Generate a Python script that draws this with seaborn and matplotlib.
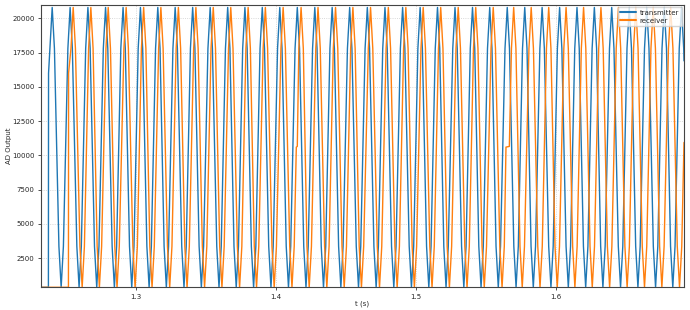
import numpy as np
import pandas as pd
import matplotlib
matplotlib.use("Agg")
import matplotlib.pyplot as plt
import seaborn as sns

# ---- data ----
trough_level = 360
peak_level = 20800
# the crests/troughs are rounded: at these levels the curve is still close to
# the extreme, about 0.0016 s either side of it
shoulder_lo = 3350
shoulder_hi = 17800
shoulder_halfwidth = 0.0016

# transmitter: flat start, jump, then turning points
tx_start_t = [1.2321, 1.2374, 1.2375]
tx_start_v = [360, 360, 16000]
tx_peaks = [1.2401, 1.2529, 1.2656, 1.2782, 1.2907, 1.3031, 1.3155, 1.3279, 1.3404,
            1.3529, 1.3654, 1.3777, 1.3901, 1.4026, 1.4151, 1.4276, 1.4400, 1.4525,
            1.4651, 1.4777, 1.4903, 1.5028, 1.5152, 1.5277, 1.5402, 1.5525, 1.5650,
            1.5775, 1.5899, 1.6024, 1.6148, 1.6272, 1.6396, 1.6521, 1.6646, 1.6771,
            1.6894]
tx_troughs = [1.2465, 1.2593, 1.2719, 1.2845, 1.2969, 1.3093, 1.3216, 1.3342, 1.3466,
              1.3592, 1.3715, 1.3839, 1.3963, 1.4088, 1.4213, 1.4338, 1.4462, 1.4588,
              1.4714, 1.4840, 1.4966, 1.5090, 1.5213, 1.5340, 1.5463, 1.5586, 1.5713,
              1.5836, 1.5962, 1.6086, 1.6210, 1.6333, 1.6459, 1.6583, 1.6709, 1.6832]
tx_end_t = [1.6912]
tx_end_v = [16900]

# receiver: flat start, jump, turning points, two short holds at mid level
rx_start_t = [1.2321, 1.2517, 1.2518]
rx_start_v = [360, 360, 16000]
rx_peaks = [1.2551, 1.2677, 1.2801, 1.2929, 1.3054, 1.3177, 1.3302, 1.3427, 1.3551,
            1.3676, 1.3800, 1.3923, 1.4050, 1.4178, 1.4299, 1.4424, 1.4548, 1.4674,
            1.4801, 1.4926, 1.5050, 1.5175, 1.5300, 1.5425, 1.5550, 1.5696, 1.5821,
            1.5946, 1.6070, 1.6195, 1.6319, 1.6444, 1.6568, 1.6692, 1.6817]
rx_troughs = [1.2615, 1.2738, 1.2864, 1.2993, 1.3114, 1.3240, 1.3364, 1.3489, 1.3613,
              1.3739, 1.3860, 1.3986, 1.4113, 1.4236, 1.4362, 1.4486, 1.4609, 1.4738,
              1.4864, 1.4987, 1.5113, 1.5237, 1.5363, 1.5486, 1.5613, 1.5757, 1.5884,
              1.6007, 1.6133, 1.6257, 1.6381, 1.6506, 1.6630, 1.6754, 1.6880]
rx_hold_t = [1.4144, 1.4151, 1.5641, 1.5665]
rx_hold_v = [10600, 10650, 10600, 10650]
rx_end_t = [1.6912]
rx_end_v = [10940]

series_names = ["transmitter", "receiver"]
x_range = (1.2321, 1.6912)


def build(name, start_t, start_v, peaks, troughs, extra_t, extra_v, end_t, end_v):
    t = list(start_t) + list(peaks) + list(troughs) + list(extra_t) + list(end_t)
    v = (list(start_v) + [peak_level] * len(peaks) + [trough_level] * len(troughs)
         + list(extra_v) + list(end_v))
    # shoulders either side of each crest / trough
    for p in peaks:
        for s in (-shoulder_halfwidth, shoulder_halfwidth):
            if start_t[-1] < p + s <= end_t[0]:
                t.append(p + s)
                v.append(shoulder_hi)
    for tr in troughs:
        for s in (-shoulder_halfwidth, shoulder_halfwidth):
            if start_t[-1] < tr + s <= end_t[0]:
                t.append(tr + s)
                v.append(shoulder_lo)
    d = pd.DataFrame({"t (s)": t, "AD Output": v})
    d["signal"] = name
    return d.sort_values("t (s)")


df = pd.concat([
    build(series_names[0], tx_start_t, tx_start_v, tx_peaks, tx_troughs, [], [], tx_end_t, tx_end_v),
    build(series_names[1], rx_start_t, rx_start_v, rx_peaks, rx_troughs, rx_hold_t, rx_hold_v, rx_end_t, rx_end_v),
], ignore_index=True)

# ---- plot ----
sns.set_style("ticks")
plt.rcParams["font.family"] = ["DejaVu Sans"]

fig = plt.figure(figsize=(6.9, 3.1), dpi=100)
ax = fig.add_axes([0.0594, 0.0732, 0.9319, 0.9116])

sns.lineplot(data=df, x="t (s)", y="AD Output", hue="signal", hue_order=series_names,
             palette=["#1f77b4", "#ff7f0e"], estimator=None, sort=True,
             linewidth=1.0, ax=ax)

ax.set_xlim(*x_range)
ax.set_ylim(360, 21000)
ax.set_xticks([1.3, 1.4, 1.5, 1.6])
ax.set_yticks([2500, 5000, 7500, 10000, 12500, 15000, 17500, 20000])
ax.tick_params(labelsize=5, length=2.5, width=0.6, pad=2, color="#333333")
ax.set_xlabel("t (s)", fontsize=5, labelpad=1)
ax.set_ylabel("AD Output", fontsize=5, labelpad=0)
ax.grid(True, linestyle=":", linewidth=0.6, color="#cccccc")
for s in ax.spines.values():
    s.set_visible(True)
    s.set_linewidth(0.8)
    s.set_color("#444444")

leg = ax.legend(loc="upper right", fontsize=5, frameon=True, handlelength=2.2,
                borderpad=0.4, labelspacing=0.3, handletextpad=0.6, borderaxespad=0.3)
for h in leg.get_lines():
    h.set_linewidth(1.5)

fig.savefig("out.png", dpi=100)
